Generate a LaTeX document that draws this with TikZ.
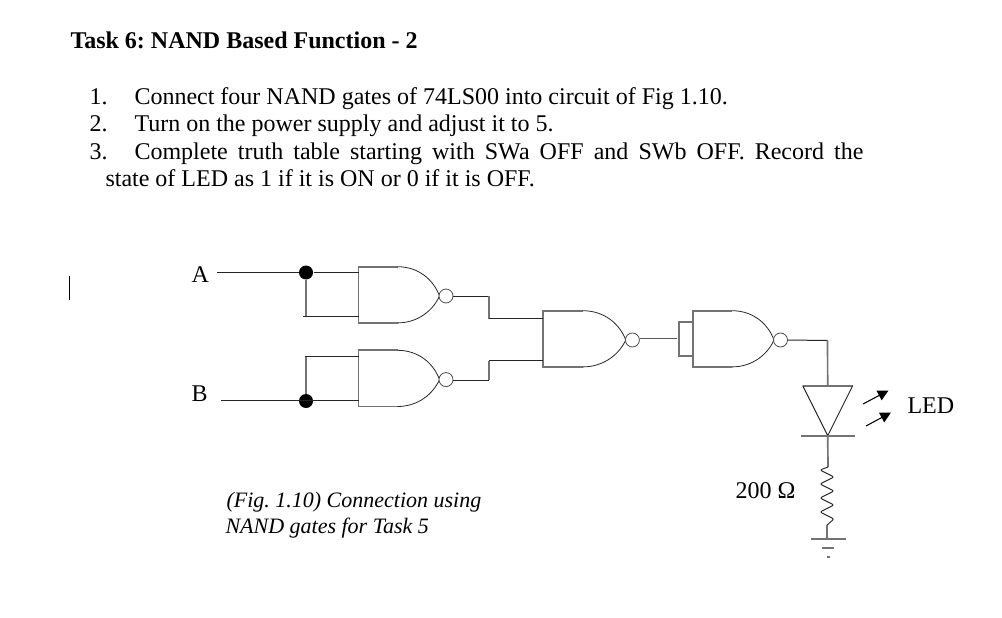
\documentclass[tikz,border=0pt]{standalone}
\usepackage{fontspec}
\setmainfont{Liberation Serif}
\usetikzlibrary{arrows.meta}
\tikzset{every picture/.style={line width=0.75pt}}
\tikzset{
  wire/.style={line width=0.75pt,black!85},
  riser/.style={line width=1.25pt,black!55},
  bubble/.style={circle,draw=black!70,line width=0.6pt,fill=white,inner sep=0pt,minimum size=10.5pt},
  junction/.style={circle,fill=black,inner sep=0pt,minimum size=10.5pt},
  txt/.style={anchor=base west,inner sep=0pt,font=\fontsize{18pt}{20pt}\selectfont\frenchspacing},
  captxt/.style={txt,font=\fontsize{16.5pt}{18pt}\selectfont\itshape\frenchspacing},
  every pic/.style={yscale=-1},
  nandbody/.pic={
    \draw [riser] (39,0) -- (0,0) -- (0,56.2) -- (39,56.2) ;
    \draw [line width=0.6pt,black!85] (39,0) .. controls (60,0) and (75,13) .. (81,29.3) .. controls (75,43) and (60,56.2) .. (39,56.2) ;
    \node [bubble] (-out) at (87.5,29.3) {};
  }
}

\begin{document}
\begin{tikzpicture}[x=0.75pt,y=0.75pt,yscale=-1,xscale=1]
\useasboundingbox (0,0) rectangle (1002,617);

% Text Node
\node [txt,font=\fontsize{18pt}{20pt}\selectfont\bfseries\frenchspacing] (title) at (70,48.5) {Task 6: NAND Based Function - 2};
\node [txt] (num1) at (89,104) {1.};
\node [txt] (num2) at (89,131) {2.};
\node [txt] (num3) at (89,159) {3.};
\node [txt] (step1) at (134,104) {Connect four NAND gates of 74LS00 into circuit of Fig 1.10.};
\node [txt] (step2) at (134,131) {Turn on the power supply and adjust it to 5.};
\node [txt] (step3) at (134,159) {\makebox[546.75pt][s]{Complete truth table starting with SWa OFF and SWb OFF. Record the}};
\node [txt] (step3b) at (105,186) {state of LED as 1 if it is ON or 0 if it is OFF.};
\node [txt] (lblA) at (191,282) {A};
\node [txt] (lblB) at (191,401) {B};
\node [txt] (lblR) at (735,498) {200 Ω};
\node [txt] (lblLED) at (907,413) {LED};
\node [captxt] (cap1) at (226,507) {(Fig. 1.10) Connection using};
\node [captxt] (cap2) at (225,533) {NAND gates for Task 5};

%Straight Lines: cursor
\coordinate (curT) at (69,276);
\coordinate (curB) at (69,300);
\draw [line width=0.7pt] (curT) -- (curB) ;

%Shape: gates
\path (358.5,266.7) pic (g1) {nandbody};
\path (358.5,350.3) pic (g2) {nandbody};
\path (542.7,310.7) pic [xscale=1.025] (g3) {nandbody};
\path (693,310.7) pic (g4) {nandbody};

%Shape: Circle
\node [junction] (dotA) at (306,272.5) {};
\node [junction] (dotB) at (306,401) {};

% pins
\coordinate (startA) at (217,272.5);
\coordinate (startB) at (221,400.5);
\coordinate (g1a) at (358.5,272.5);
\coordinate (g1b) at (358.5,316);
\coordinate (g1c) at (303,316);
\coordinate (g1d) at (306,316);
\coordinate (g2a) at (358.5,356.5);
\coordinate (g2b) at (358.5,400.5);
\coordinate (g2c) at (305,356.5);
\coordinate (g2d) at (306,356.5);
\coordinate (k1a) at (489,296);
\coordinate (k1b) at (489,318.5);
\coordinate (k2a) at (489,380);
\coordinate (k2b) at (489,360.5);
\coordinate (g3a) at (542.7,318.5);
\coordinate (g3b) at (542.7,360.5);
\coordinate (bufL) at (677,338);
\coordinate (k3) at (827.5,340.5);

%Straight Lines
\draw [wire] (startA) -- (dotA) -- (g1a) ;
\draw [wire] (startB) -- (dotB.west |- startB) -- (g2b) ;
\draw [riser] (dotA) -- (g1d) ;
\draw [riser] (dotB) -- (g2d) ;
\draw [wire] (g1c) -- (g1b) ;
\draw [wire] (g2c) -- (g2a) ;
\draw [wire] (g1-out.east |- k1a) -- (k1a) ;
\draw [riser] (k1a) -- (k1b) ;
\draw [wire] (k1b) -- (g3a) ;
\draw [wire] (g2-out.east |- k2a) -- (k2a) ;
\draw [riser] (k2a) -- (k2b) ;
\draw [wire] (k2b) -- (g3b) ;
\draw [wire,black!65] (g3-out.east |- bufL) -- (bufL) ;

%Shape: Rectangle
\draw [riser] (678.7,322) rectangle (693,356.3) ;

% LED
\coordinate (ledTL) at (802.7,385.7);
\coordinate (ledT) at (827.7,385.7);
\coordinate (ledTR) at (852.7,385.7);
\coordinate (ledA) at (827.7,435.7);
\coordinate (barL) at (800.7,435.7);
\coordinate (barR) at (855,435.7);
\draw [wire] (g4-out.east) -- (k3) ;
\draw [riser] (k3) -- (ledT) ;
\draw [riser] (ledTL) -- (ledTR) ;
\draw [line width=0.7pt,black!85] (ledTL) -- (ledA) -- (ledTR) ;
\draw [riser] (barL) -- (barR) ;

%Straight Lines: light arrows
\coordinate (ray1s) at (863,404);
\coordinate (ray1e) at (888.5,390.5);
\coordinate (ray2s) at (866,426);
\coordinate (ray2e) at (891,412.5);
\draw [-{Triangle[length=8pt,width=8pt]},line width=0.8pt] (ray1s) -- (ray1e) ;
\draw [-{Triangle[length=8pt,width=8pt]},line width=0.8pt] (ray2s) -- (ray2e) ;

% resistor and ground
\coordinate (resT) at (828,467);
\coordinate (resB) at (827,525);
\coordinate (gnd) at (827,538.7);
\draw [riser] (ledA) -- (resT) ;
\draw [line width=0.7pt,black!85,rounded corners=1.5pt] (resT) -- (820,470) -- (834,477) -- (820,484) -- (834,491) -- (820,498) -- (834,505) -- (820,512) -- (834,519) -- (resB) ;
\draw [riser] (resB) -- (gnd) ;
\draw [riser] (810.7,538.7) -- (846.3,538.7) ;
\draw [riser] (822,547.7) -- (834,547.7) ;
\draw [riser] (827,556.7) -- (829.5,556.7) ;

\end{tikzpicture}
\end{document}
